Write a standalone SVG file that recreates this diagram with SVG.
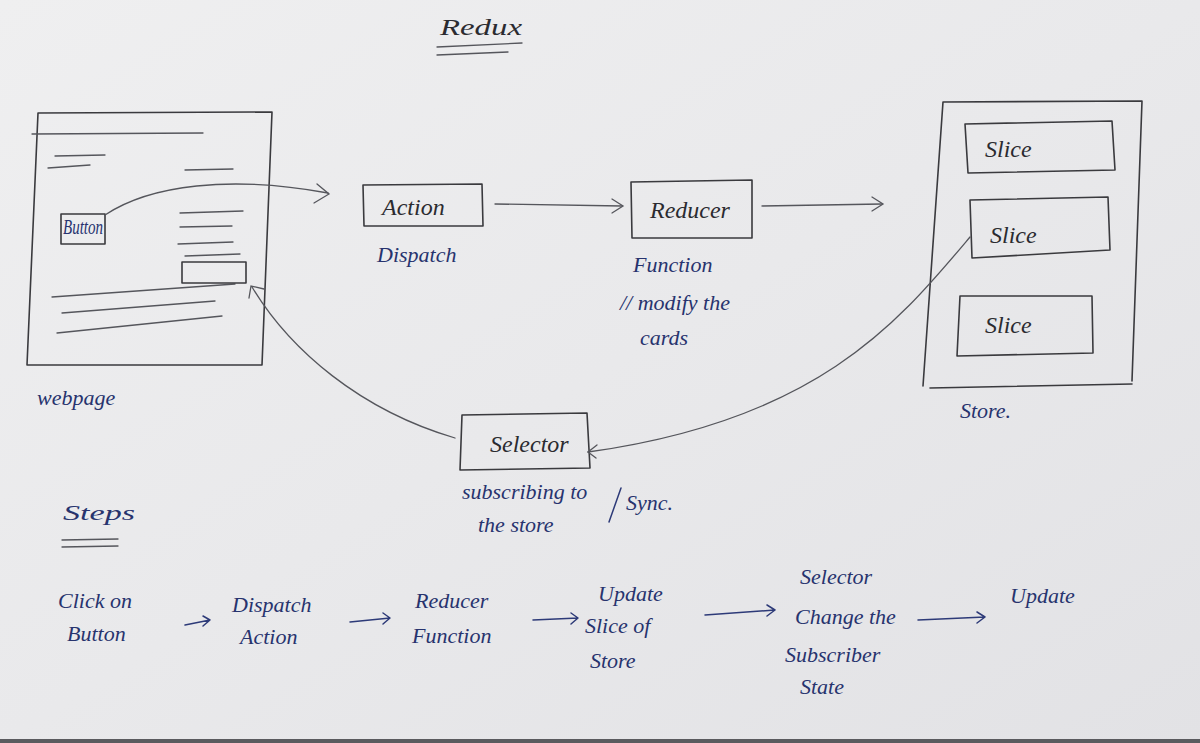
<svg xmlns="http://www.w3.org/2000/svg" width="1200" height="743" viewBox="0 0 1200 743">
<defs>
<linearGradient id="paper" x1="0" y1="0" x2="1" y2="1">
<stop offset="0" stop-color="#efeff0"/>
<stop offset="0.5" stop-color="#e9e9eb"/>
<stop offset="1" stop-color="#e2e2e5"/>
</linearGradient>
<style>
.ink{fill:none;stroke:#3a3a3e;stroke-width:1.6;stroke-linecap:round;stroke-linejoin:round}
.thin{fill:none;stroke:#55565c;stroke-width:1.3;stroke-linecap:round}
.bl{fill:none;stroke:#2d3a78;stroke-width:1.5;stroke-linecap:round;stroke-linejoin:round}
.k{font-family:"Liberation Serif",serif;font-style:italic;fill:#2b2b30;font-size:24px}
.b{font-family:"Liberation Serif",serif;font-style:italic;fill:#27336e;font-size:22px}
</style>
</defs>
<rect width="1200" height="743" fill="url(#paper)"/>
<rect x="0" y="739" width="1200" height="4" fill="#5a5a5e"/>

<g id="title">
<text class="k" x="440" y="35" font-size="31" textLength="82" lengthAdjust="spacingAndGlyphs">Redux</text>
<path class="thin" d="M437 47 L522 43 M437 55 L508 52"/>
</g>

<g id="webpage">
<path class="ink" d="M38 113 L272 112 M38 113 L27 365 L262 365 M272 112 L262 365"/>
<path class="thin" d="M32 134 L203 133 M55 156 L105 155 M48 168 L90 165 M185 170 L233 169 M180 213 L243 211 M180 227 L232 226 M178 244 L233 242 M185 256 L240 254 M52 297 L235 284 M62 313 L215 301 M57 333 L222 316"/>
<rect class="ink" x="182" y="262" width="64" height="21"/>
<rect class="ink" x="61" y="214" width="44" height="30"/>
<text class="b" x="63" y="234" font-size="14" textLength="40" lengthAdjust="spacingAndGlyphs">Button</text>
<text class="b" x="37" y="405">webpage</text>
</g>

<g id="action">
<path class="ink" d="M363 185 L482 184 L483 226 L364 226 Z"/>
<text class="k" x="382" y="215">Action</text>
<text class="b" x="377" y="262">Dispatch</text>
</g>

<g id="reducer">
<path class="ink" d="M631 182 L752 180 L752 238 L632 238 Z"/>
<text class="k" x="650" y="218">Reducer</text>
<text class="b" x="633" y="272">Function</text>
<text class="b" x="620" y="310">// modify the</text>
<text class="b" x="640" y="345">cards</text>
</g>

<g id="store">
<path class="ink" d="M943 102 L1142 101 L1132 381 M943 102 L923 386 M930 388 L1132 384"/>
<g id="slice1">
<path class="ink" d="M965 124 L1112 121 L1115 170 L968 173 Z"/>
<text class="k" x="985" y="157" font-size="21">Slice</text>
</g>
<g id="slice2">
<path class="ink" d="M970 200 L1108 197 L1110 250 L972 258 Z"/>
<text class="k" x="990" y="243" font-size="21">Slice</text>
</g>
<g id="slice3">
<path class="ink" d="M960 296 L1092 296 L1093 353 L957 356 Z"/>
<text class="k" x="985" y="333" font-size="21">Slice</text>
</g>
<text class="b" x="960" y="418" font-size="21">Store.</text>
</g>

<g id="selector">
<path class="ink" d="M462 415 L587 413 L590 468 L460 470 Z"/>
<text class="k" x="490" y="452">Selector</text>
<text class="b" x="462" y="499" font-size="20">subscribing to</text>
<text class="b" x="478" y="532" font-size="20">the store</text>
<path class="bl" d="M609 522 L621 488"/>
<text class="b" x="626" y="510">Sync.</text>
</g>

<g id="connectors">
<path class="thin" d="M105 215 C150 185 230 175 328 193"/>
<path class="thin" d="M317 184 L329 194 L314 203"/>
<path class="thin" d="M495 204 L622 206"/>
<path class="thin" d="M612 199 L623 206 L612 213"/>
<path class="thin" d="M762 206 L882 204"/>
<path class="thin" d="M872 197 L883 204 L872 211"/>
<path class="thin" d="M970 237 C900 320 820 420 588 452"/>
<path class="thin" d="M597 445 L588 452 L596 458"/>
<path class="thin" d="M455 438 C360 410 290 350 252 287"/>
<path class="thin" d="M264 289 L251 286 L249 298"/>
</g>

<g id="steps">
<text class="b" x="63" y="520" font-size="28" textLength="72" lengthAdjust="spacingAndGlyphs">Steps</text>
<path class="thin" d="M62 540 L118 539 M62 547 L118 546"/>
<text class="b" x="58" y="608">Click on</text>
<text class="b" x="67" y="641">Button</text>
<text class="b" x="232" y="612">Dispatch</text>
<text class="b" x="240" y="644">Action</text>
<text class="b" x="415" y="608">Reducer</text>
<text class="b" x="412" y="643">Function</text>
<text class="b" x="598" y="601">Update</text>
<text class="b" x="585" y="633">Slice of</text>
<text class="b" x="590" y="668">Store</text>
<text class="b" x="800" y="584">Selector</text>
<text class="b" x="795" y="624">Change the</text>
<text class="b" x="785" y="662">Subscriber</text>
<text class="b" x="800" y="694">State</text>
<text class="b" x="1010" y="603">Update</text>
</g>
<g id="step-connectors" class="bl">
<path d="M185 625 L210 620 M203 616 L210 620 L203 626"/>
<path d="M350 622 L390 618 M383 613 L390 618 L383 624"/>
<path d="M533 620 L578 618 M571 613 L578 618 L571 624"/>
<path d="M705 615 L775 610 M767 605 L775 610 L767 616"/>
<path d="M918 620 L985 617 M977 612 L985 617 L977 623"/>
</g>
</svg>
